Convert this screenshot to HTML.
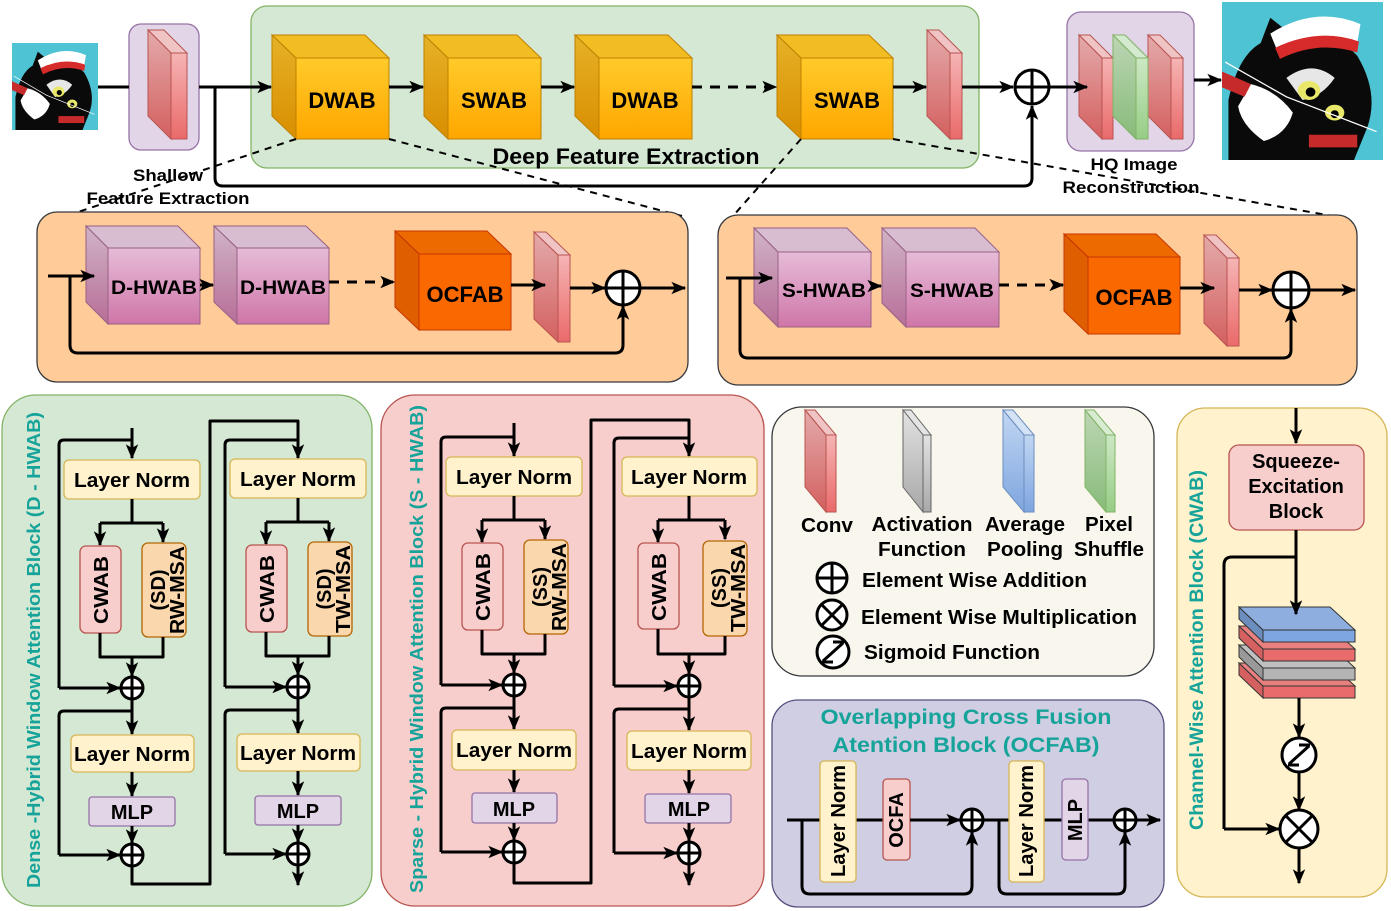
<!DOCTYPE html>
<html><head><meta charset="utf-8"><style>
html,body{margin:0;padding:0;background:#fff}
svg{display:block}
text{font-family:"Liberation Sans",sans-serif;font-weight:bold;fill:#000}
.ln{fill:none;stroke:#000;stroke-width:3;stroke-linejoin:round}
.ar{fill:none;stroke:#000;stroke-width:3;marker-end:url(#ah)}
.da{fill:none;stroke:#000;stroke-width:2;stroke-dasharray:7 6}
.dl{fill:none;stroke:#000;stroke-width:3;stroke-dasharray:10 8;marker-end:url(#ah)}
.lnb{fill:#fff2cc;stroke:#d6b656;stroke-width:1.3}
.cw{fill:#f8cecc;stroke:#b85450;stroke-width:1.3}
.ms{fill:#fad7ac;stroke:#b46504;stroke-width:1.3}
.ml{fill:#e1d5e7;stroke:#9673a6;stroke-width:1.3}
.pc{fill:#fff;stroke:#000;stroke-width:3}
.t19{font-size:19px}
.t20{font-size:20px}
.teal{fill:#16a39a}
</style></head><body>
<svg width="1391" height="911" viewBox="0 0 1391 911" xmlns="http://www.w3.org/2000/svg">
<defs>
<marker id="ah" viewBox="0 0 12 10" refX="11" refY="5" markerWidth="5" markerHeight="5" orient="auto" markerUnits="strokeWidth">
<path d="M0,0 L12,5 L0,10 L3,5 z" fill="#000"/></marker>
<linearGradient id="yf" x1="0" y1="0" x2="0" y2="1"><stop offset="0" stop-color="#ffcb2a"/><stop offset="1" stop-color="#ffa600"/></linearGradient>
<linearGradient id="ys" x1="0" y1="0" x2="0" y2="1"><stop offset="0" stop-color="#e6b228"/><stop offset="1" stop-color="#d98e00"/></linearGradient>
<linearGradient id="pf" x1="0" y1="0" x2="0" y2="1"><stop offset="0" stop-color="#e6bcd8"/><stop offset="1" stop-color="#cf76a8"/></linearGradient>
<linearGradient id="ps" x1="0" y1="0" x2="0" y2="1"><stop offset="0" stop-color="#d0b4c6"/><stop offset="1" stop-color="#b86e98"/></linearGradient>
<linearGradient id="rf" x1="0" y1="0" x2="0" y2="1"><stop offset="0" stop-color="#f6b4b4"/><stop offset="1" stop-color="#ea6a6a"/></linearGradient>
<linearGradient id="rs" x1="0" y1="0" x2="0" y2="1"><stop offset="0" stop-color="#e4aaaa"/><stop offset="1" stop-color="#d46060"/></linearGradient>
<linearGradient id="gf" x1="0" y1="0" x2="0" y2="1"><stop offset="0" stop-color="#cde8c4"/><stop offset="1" stop-color="#96cd86"/></linearGradient>
<linearGradient id="gs" x1="0" y1="0" x2="0" y2="1"><stop offset="0" stop-color="#bcd6b4"/><stop offset="1" stop-color="#88bb7a"/></linearGradient>
<linearGradient id="bf" x1="0" y1="0" x2="0" y2="1"><stop offset="0" stop-color="#c2d6f2"/><stop offset="1" stop-color="#7ea6e0"/></linearGradient>
<linearGradient id="af" x1="0" y1="0" x2="0" y2="1"><stop offset="0" stop-color="#e2e2e2"/><stop offset="1" stop-color="#a8a8a8"/></linearGradient>
<g id="cat">
<rect x="0" y="0" width="100" height="100" fill="#4ec3d3"/>
<path d="M4,100 L4,62 Q10,34 24,26 L30,10 L40,18 Q66,14 84,34 Q98,58 90,80 L82,100 Z" fill="#0a0a0a"/>
<path d="M30,20 Q58,2 86,14 L84,26 Q60,16 34,30 Z" fill="#fff"/>
<path d="M33,29 Q60,16 85,25 L84,32 Q60,24 36,36 Z" fill="#d72a2a"/>
<path d="M18,52 Q34,56 44,70 Q40,84 26,88 Q12,78 10,66 Z" fill="#fff"/>
<path d="M40,48 Q56,36 70,48 Q62,60 50,62 Z" fill="#fff" opacity="0.9"/>
<ellipse cx="54" cy="56" rx="7" ry="6" fill="#e9e86a"/>
<ellipse cx="70" cy="70" rx="6" ry="5" fill="#e9e86a"/>
<circle cx="55" cy="57" r="3" fill="#000"/><circle cx="70" cy="71" r="2.5" fill="#000"/>
<path d="M0,44 L18,52 L14,60 L0,54 Z" fill="#c62a2a"/>
<rect x="54" y="84" width="30" height="8" fill="#c62a2a"/>
<path d="M2,38 L40,60 L96,82" stroke="#fff" stroke-width="0.8" fill="none"/>
</g>
</defs>

<!-- ===== TOP ROW ===== -->
<use href="#cat" transform="translate(12,43) scale(0.86,0.87)"/>
<use href="#cat" transform="translate(1222,2) scale(1.61,1.58)"/>

<rect x="129" y="24" width="70" height="126" rx="12" fill="#e1d5e7" stroke="#9673a6" stroke-width="1.3"/>
<rect x="251" y="6" width="728" height="162" rx="16" fill="#d5e8d4" stroke="#82b366" stroke-width="1.3"/>
<rect x="1067" y="12" width="127" height="139" rx="14" fill="#e1d5e7" stroke="#9673a6" stroke-width="1.3"/>

<g stroke="#b85450" stroke-width="1">
<polygon points="148,30 164,30 187,53 171,53" fill="#f0c4c4"/><polygon points="148,30 171,53 171,139 148,116" fill="url(#rs)"/><rect x="171" y="53" width="16" height="86" fill="url(#rf)"/>
<polygon points="927,30 939,30 962,53 950,53" fill="#f0c4c4"/><polygon points="927,30 950,53 950,139 927,116" fill="url(#rs)"/><rect x="950" y="53" width="12" height="86" fill="url(#rf)"/>
<polygon points="1079,35 1090,35 1113,58 1102,58" fill="#f0c4c4"/><polygon points="1079,35 1102,58 1102,139 1079,116" fill="url(#rs)"/><rect x="1102" y="58" width="11" height="81" fill="url(#rf)"/>
<polygon points="1148,35 1160,35 1183,58 1171,58" fill="#f0c4c4"/><polygon points="1148,35 1171,58 1171,139 1148,116" fill="url(#rs)"/><rect x="1171" y="58" width="12" height="81" fill="url(#rf)"/>
</g>
<g stroke="#82b366" stroke-width="1">
<polygon points="1113,35 1125,35 1148,58 1136,58" fill="#d4ead0"/><polygon points="1113,35 1136,58 1136,139 1113,116" fill="url(#gs)"/><rect x="1136" y="58" width="12" height="81" fill="url(#gf)"/>
</g>

<g stroke="#c08000" stroke-width="1">
<polygon points="272,35 365,35 389,58 296,58" fill="#f2bd22"/><polygon points="272,35 296,58 296,139 272,116" fill="url(#ys)"/><rect x="296" y="58" width="93" height="81" fill="url(#yf)"/>
<polygon points="424,35 517,35 541,58 448,58" fill="#f2bd22"/><polygon points="424,35 448,58 448,139 424,116" fill="url(#ys)"/><rect x="448" y="58" width="93" height="81" fill="url(#yf)"/>
<polygon points="575,35 668,35 692,58 599,58" fill="#f2bd22"/><polygon points="575,35 599,58 599,139 575,116" fill="url(#ys)"/><rect x="599" y="58" width="93" height="81" fill="url(#yf)"/>
<polygon points="777,35 869,35 893,58 801,58" fill="#f2bd22"/><polygon points="777,35 801,58 801,139 777,116" fill="url(#ys)"/><rect x="801" y="58" width="92" height="81" fill="url(#yf)"/>
</g>
<g font-size="22" text-anchor="middle">
<text x="342" y="108">DWAB</text><text x="494" y="108">SWAB</text><text x="645" y="108">DWAB</text><text x="847" y="108">SWAB</text>
</g>

<path class="ln" d="M98,87 H129"/>
<path class="ar" d="M199,87 H271"/>
<path class="ln" d="M215,87 V178 Q215,186 223,186 H1024 Q1032,186 1032,178 V106"/>
<path class="ar" d="M1032,120 V106"/>
<path class="ar" d="M389,87 H423"/>
<path class="ar" d="M541,87 H574"/>
<path class="dl" d="M692,87 H776"/>
<path class="ar" d="M893,87 H926"/>
<path class="ar" d="M962,87 H1013"/>
<circle class="pc" cx="1032" cy="87" r="17"/>
<path class="ln" d="M1015,87 H1049 M1032,70 V104"/>
<path class="ar" d="M1049,87 H1087"/>
<path class="ar" d="M1194,80 H1221"/>

<text x="168" y="181" font-size="17" text-anchor="middle" textLength="70" lengthAdjust="spacingAndGlyphs">Shallow</text>
<text x="168" y="204" font-size="17" text-anchor="middle" textLength="163" lengthAdjust="spacingAndGlyphs">Feature Extraction</text>
<text x="626" y="164" font-size="22" text-anchor="middle" textLength="267" lengthAdjust="spacingAndGlyphs">Deep Feature Extraction</text>
<text x="1134" y="170" font-size="17" text-anchor="middle" textLength="87" lengthAdjust="spacingAndGlyphs">HQ Image</text>
<text x="1131" y="193" font-size="17" text-anchor="middle" textLength="137" lengthAdjust="spacingAndGlyphs">Reconstruction</text>

<path class="da" d="M296,139 L75,213"/>
<path class="da" d="M389,139 L682,216"/>
<path class="da" d="M801,139 L733,216"/>
<path class="da" d="M893,139 L1350,219"/>

<!-- ===== ORANGE PANELS ===== -->
<rect x="37" y="212" width="651" height="170" rx="20" fill="#ffcc99" stroke="#36393d" stroke-width="1.3"/>
<rect x="718" y="215" width="639" height="170" rx="20" fill="#ffcc99" stroke="#36393d" stroke-width="1.3"/>

<g stroke="#996185" stroke-width="1">
<polygon points="86,226 178,226 200,248 108,248" fill="#d8bccf"/><polygon points="86,226 108,248 108,324 86,302" fill="url(#ps)"/><rect x="108" y="248" width="92" height="76" fill="url(#pf)"/>
<polygon points="214,226 306,226 329,248 237,248" fill="#d8bccf"/><polygon points="214,226 237,248 237,324 214,302" fill="url(#ps)"/><rect x="237" y="248" width="92" height="76" fill="url(#pf)"/>
<polygon points="754,228 847,228 871,252 778,252" fill="#d8bccf"/><polygon points="754,228 778,252 778,327 754,303" fill="url(#ps)"/><rect x="778" y="252" width="93" height="75" fill="url(#pf)"/>
<polygon points="882,228 975,228 999,252 906,252" fill="#d8bccf"/><polygon points="882,228 906,252 906,327 882,303" fill="url(#ps)"/><rect x="906" y="252" width="93" height="75" fill="url(#pf)"/>
</g>
<g stroke="#c73500" stroke-width="1">
<polygon points="395,231 487,231 511,254 419,254" fill="#ec6a00"/><polygon points="395,231 419,254 419,330 395,307" fill="#df5e00"/><rect x="419" y="254" width="92" height="76" fill="#fa6800"/>
<polygon points="1064,234 1156,234 1180,257 1088,257" fill="#ec6a00"/><polygon points="1064,234 1088,257 1088,334 1064,311" fill="#df5e00"/><rect x="1088" y="257" width="92" height="77" fill="#fa6800"/>
</g>
<g stroke="#b85450" stroke-width="1">
<polygon points="534,232 546,232 570,255 558,255" fill="#f0c4c4"/><polygon points="534,232 558,255 558,342 534,319" fill="url(#rs)"/><rect x="558" y="255" width="12" height="87" fill="url(#rf)"/>
<polygon points="1204,235 1216,235 1239,258 1227,258" fill="#f0c4c4"/><polygon points="1204,235 1227,258 1227,346 1204,323" fill="url(#rs)"/><rect x="1227" y="258" width="12" height="88" fill="url(#rf)"/>
</g>
<g text-anchor="middle">
<text x="154" y="294" font-size="19" textLength="86" lengthAdjust="spacingAndGlyphs">D-HWAB</text><text x="283" y="294" font-size="19" textLength="86" lengthAdjust="spacingAndGlyphs">D-HWAB</text>
<text x="465" y="302" font-size="22">OCFAB</text>
<text x="824" y="297" font-size="19" textLength="84" lengthAdjust="spacingAndGlyphs">S-HWAB</text><text x="952" y="297" font-size="19" textLength="84" lengthAdjust="spacingAndGlyphs">S-HWAB</text>
<text x="1134" y="305" font-size="22">OCFAB</text>
</g>

<path class="ar" d="M48,276 H94"/>
<path class="ln" d="M70,276 V345 Q70,353 78,353 H615 Q623,353 623,345 V306"/>
<path class="ar" d="M623,320 V306"/>
<path class="ar" d="M200,285 H213"/>
<path class="dl" d="M329,282 H394"/>
<path class="ar" d="M511,285 H545"/>
<path class="ar" d="M570,288 H605"/>
<circle class="pc" cx="623" cy="288" r="17"/>
<path class="ln" d="M606,288 H640 M623,271 V305"/>
<path class="ar" d="M640,288 H685"/>

<path class="ar" d="M726,278 H772"/>
<path class="ln" d="M740,278 V350 Q740,358 748,358 H1283 Q1291,358 1291,350 V309"/>
<path class="ar" d="M1291,322 V309"/>
<path class="ar" d="M871,286 H881"/>
<path class="dl" d="M999,285 H1063"/>
<path class="ar" d="M1180,288 H1214"/>
<path class="ar" d="M1239,290 H1272"/>
<circle class="pc" cx="1291" cy="290" r="18"/>
<path class="ln" d="M1273,290 H1309 M1291,272 V308"/>
<path class="ar" d="M1309,290 H1355"/>

<!-- ===== BOTTOM PANELS ===== -->
<rect x="2" y="395" width="370" height="511" rx="34" fill="#d5e8d4" stroke="#82b366" stroke-width="1.3"/>
<rect x="381" y="395" width="383" height="511" rx="34" fill="#f8cecc" stroke="#b85450" stroke-width="1.3"/>
<rect x="772" y="407" width="382" height="269" rx="30" fill="#f9f7ed" stroke="#36393d" stroke-width="1.3"/>
<rect x="772" y="700" width="392" height="207" rx="26" fill="#d0cee2" stroke="#56517e" stroke-width="1.3"/>
<rect x="1177" y="408" width="210" height="489" rx="28" fill="#fff2cc" stroke="#d6b656" stroke-width="1.3"/>

<text class="teal" font-size="18" text-anchor="middle" textLength="476" lengthAdjust="spacingAndGlyphs" transform="translate(40,650) rotate(-90)">Dense -Hybrid Window Attention Block (D - HWAB)</text>
<text class="teal" font-size="18" text-anchor="middle" textLength="488" lengthAdjust="spacingAndGlyphs" transform="translate(423,649) rotate(-90)">Sparse - Hybrid Window Attention Block (S - HWAB)</text>
<text class="teal" font-size="19" text-anchor="middle" textLength="360" lengthAdjust="spacingAndGlyphs" transform="translate(1203,650) rotate(-90)">Channel-Wise Attention Block (CWAB)</text>

<g transform="translate(132,0)">
<path class="ar" d="M0,428 V458"/>
<path class="ln" d="M0,440 H-68 Q-73,440 -73,445 V688"/><path class="ar" d="M-73,688 H-12"/>
<rect class="lnb" x="-68" y="460" width="136" height="39" rx="5"/><text class="t20" x="0" y="487" text-anchor="middle" textLength="116" lengthAdjust="spacingAndGlyphs">Layer Norm</text>
<path class="ln" d="M0,499 V523 M-32,523 H31"/><path class="ar" d="M-32,523 V545"/><path class="ar" d="M31,523 V542"/>
<rect class="cw" x="-52" y="546" width="41" height="87" rx="6"/><text class="t20" text-anchor="middle" textLength="68" lengthAdjust="spacingAndGlyphs" transform="translate(-24,590) rotate(-90)">CWAB</text>
<rect class="ms" x="10" y="543" width="44" height="94" rx="6"/>
<text class="t20" text-anchor="middle" transform="translate(33,590) rotate(-90)">(SD)</text>
<text class="t20" text-anchor="middle" textLength="88" lengthAdjust="spacingAndGlyphs" transform="translate(52,590) rotate(-90)">RW-MSA</text>
<path class="ln" d="M-32,633 V657 H31 V637"/><path class="ar" d="M0,657 V676"/>
<circle class="pc" cx="0" cy="688" r="11"/><path class="ln" d="M-11,688 H11 M0,677 V699"/>
<path class="ar" d="M0,699 V734"/>
<path class="ln" d="M0,711 H-68 Q-73,711 -73,716 V855"/><path class="ar" d="M-73,855 H-12"/>
<rect class="lnb" x="-61" y="735" width="123" height="37" rx="5"/><text class="t20" x="0" y="761" text-anchor="middle" textLength="116" lengthAdjust="spacingAndGlyphs">Layer Norm</text>
<path class="ar" d="M0,772 V796"/>
<rect class="ml" x="-43" y="797" width="86" height="29" rx="3"/><text class="t20" x="0" y="819" text-anchor="middle">MLP</text>
<path class="ar" d="M0,826 V843"/>
<circle class="pc" cx="0" cy="855" r="11"/><path class="ln" d="M-11,855 H11 M0,844 V866"/>
</g>
<path class="ln" d="M132,866 V884 H210 V421 H298 V438"/>

<g transform="translate(298,-1)">
<path class="ar" d="M0,436 V459"/>
<path class="ln" d="M0,441 H-68 Q-73,441 -73,446 V688"/><path class="ar" d="M-73,688 H-12"/>
<rect class="lnb" x="-68" y="460" width="136" height="39" rx="5"/><text class="t20" x="0" y="487" text-anchor="middle" textLength="116" lengthAdjust="spacingAndGlyphs">Layer Norm</text>
<path class="ln" d="M0,499 V523 M-32,523 H31"/><path class="ar" d="M-32,523 V545"/><path class="ar" d="M31,523 V542"/>
<rect class="cw" x="-52" y="546" width="41" height="87" rx="6"/><text class="t20" text-anchor="middle" textLength="68" lengthAdjust="spacingAndGlyphs" transform="translate(-24,590) rotate(-90)">CWAB</text>
<rect class="ms" x="10" y="543" width="44" height="94" rx="6"/>
<text class="t20" text-anchor="middle" transform="translate(33,590) rotate(-90)">(SD)</text>
<text class="t20" text-anchor="middle" textLength="88" lengthAdjust="spacingAndGlyphs" transform="translate(52,590) rotate(-90)">TW-MSA</text>
<path class="ln" d="M-32,633 V657 H31 V637"/><path class="ar" d="M0,657 V676"/>
<circle class="pc" cx="0" cy="688" r="11"/><path class="ln" d="M-11,688 H11 M0,677 V699"/>
<path class="ar" d="M0,699 V734"/>
<path class="ln" d="M0,711 H-68 Q-73,711 -73,716 V855"/><path class="ar" d="M-73,855 H-12"/>
<rect class="lnb" x="-61" y="735" width="123" height="37" rx="5"/><text class="t20" x="0" y="761" text-anchor="middle" textLength="116" lengthAdjust="spacingAndGlyphs">Layer Norm</text>
<path class="ar" d="M0,772 V796"/>
<rect class="ml" x="-43" y="797" width="86" height="29" rx="3"/><text class="t20" x="0" y="819" text-anchor="middle">MLP</text>
<path class="ar" d="M0,826 V843"/>
<circle class="pc" cx="0" cy="855" r="11"/><path class="ln" d="M-11,855 H11 M0,844 V866"/>
<path class="ar" d="M0,866 V886"/>
</g>

<g transform="translate(514,-3)">
<path class="ar" d="M0,426 V459"/>
<path class="ln" d="M0,440 H-68 Q-73,440 -73,445 V688"/><path class="ar" d="M-73,688 H-12"/>
<rect class="lnb" x="-68" y="460" width="136" height="39" rx="5"/><text class="t20" x="0" y="487" text-anchor="middle" textLength="116" lengthAdjust="spacingAndGlyphs">Layer Norm</text>
<path class="ln" d="M0,499 V523 M-32,523 H31"/><path class="ar" d="M-32,523 V545"/><path class="ar" d="M31,523 V542"/>
<rect class="cw" x="-52" y="546" width="41" height="87" rx="6"/><text class="t20" text-anchor="middle" textLength="68" lengthAdjust="spacingAndGlyphs" transform="translate(-24,590) rotate(-90)">CWAB</text>
<rect class="ms" x="10" y="543" width="44" height="94" rx="6"/>
<text class="t20" text-anchor="middle" transform="translate(33,590) rotate(-90)">(SS)</text>
<text class="t20" text-anchor="middle" textLength="88" lengthAdjust="spacingAndGlyphs" transform="translate(52,590) rotate(-90)">RW-MSA</text>
<path class="ln" d="M-32,633 V657 H31 V637"/><path class="ar" d="M0,657 V676"/>
<circle class="pc" cx="0" cy="688" r="11"/><path class="ln" d="M-11,688 H11 M0,677 V699"/>
<path class="ar" d="M0,699 V732"/>
<path class="ln" d="M0,711 H-68 Q-73,711 -73,716 V855"/><path class="ar" d="M-73,855 H-12"/>
<rect class="lnb" x="-62" y="733" width="124" height="40" rx="5"/><text class="t20" x="0" y="760" text-anchor="middle" textLength="116" lengthAdjust="spacingAndGlyphs">Layer Norm</text>
<path class="ar" d="M0,773 V795"/>
<rect class="ml" x="-42" y="796" width="85" height="30" rx="3"/><text class="t20" x="0" y="819" text-anchor="middle">MLP</text>
<path class="ar" d="M0,826 V843"/>
<circle class="pc" cx="0" cy="855" r="11"/><path class="ln" d="M-11,855 H11 M0,844 V866"/>
</g>
<path class="ln" d="M514,863 V883 H591 V420 H689 V436"/>

<g transform="translate(689,-2)">
<path class="ar" d="M0,436 V458"/>
<path class="ln" d="M0,440 H-70 Q-75,440 -75,445 V688"/><path class="ar" d="M-75,688 H-12"/>
<rect class="lnb" x="-67" y="459" width="135" height="39" rx="5"/><text class="t20" x="0" y="486" text-anchor="middle" textLength="116" lengthAdjust="spacingAndGlyphs">Layer Norm</text>
<path class="ln" d="M0,498 V522 M-31,522 H36"/><path class="ar" d="M-31,522 V544"/><path class="ar" d="M36,522 V541"/>
<rect class="cw" x="-51" y="545" width="41" height="86" rx="6"/><text class="t20" text-anchor="middle" textLength="68" lengthAdjust="spacingAndGlyphs" transform="translate(-23,589) rotate(-90)">CWAB</text>
<rect class="ms" x="14" y="543" width="44" height="95" rx="6"/>
<text class="t20" text-anchor="middle" transform="translate(37,590) rotate(-90)">(SS)</text>
<text class="t20" text-anchor="middle" textLength="88" lengthAdjust="spacingAndGlyphs" transform="translate(56,590) rotate(-90)">TW-MSA</text>
<path class="ln" d="M-31,631 V656 H36 V638"/><path class="ar" d="M0,656 V676"/>
<circle class="pc" cx="0" cy="688" r="11"/><path class="ln" d="M-11,688 H11 M0,677 V699"/>
<path class="ar" d="M0,699 V732"/>
<path class="ln" d="M0,711 H-70 Q-75,711 -75,716 V855"/><path class="ar" d="M-75,855 H-12"/>
<rect class="lnb" x="-62" y="733" width="124" height="39" rx="5"/><text class="t20" x="0" y="760" text-anchor="middle" textLength="116" lengthAdjust="spacingAndGlyphs">Layer Norm</text>
<path class="ar" d="M0,772 V795"/>
<rect class="ml" x="-44" y="796" width="86" height="29" rx="3"/><text class="t20" x="0" y="818" text-anchor="middle">MLP</text>
<path class="ar" d="M0,825 V843"/>
<circle class="pc" cx="0" cy="855" r="11"/><path class="ln" d="M-11,855 H11 M0,844 V866"/>
<path class="ar" d="M0,866 V887"/>
</g>

<!-- ===== LEGEND ===== -->
<g stroke-width="1">
<polygon points="805,410 815,410 836,435 826,435" fill="#f0c4c4" stroke="#b85450"/><polygon points="805,410 826,435 826,512 805,487" fill="url(#rs)" stroke="#b85450"/><rect x="826" y="435" width="10" height="77" fill="url(#rf)" stroke="#b85450"/>
<polygon points="903,410 911,410 931,435 923,435" fill="#e4e4e4" stroke="#666"/><polygon points="903,410 923,435 923,512 903,487" fill="url(#af)" stroke="#666"/><rect x="923" y="435" width="8" height="77" fill="url(#af)" stroke="#666"/>
<polygon points="1003,410 1013,410 1034,435 1024,435" fill="#d4e2f6" stroke="#6c8ebf"/><polygon points="1003,410 1024,435 1024,512 1003,487" fill="url(#bf)" stroke="#6c8ebf"/><rect x="1024" y="435" width="10" height="77" fill="url(#bf)" stroke="#6c8ebf"/>
<polygon points="1085,410 1094,410 1115,435 1106,435" fill="#d8ecd2" stroke="#82b366"/><polygon points="1085,410 1106,435 1106,512 1085,487" fill="url(#gs)" stroke="#82b366"/><rect x="1106" y="435" width="9" height="77" fill="url(#gf)" stroke="#82b366"/>
</g>
<g class="t20" text-anchor="middle">
<text x="827" y="532" textLength="52" lengthAdjust="spacingAndGlyphs">Conv</text>
<text x="922" y="531" textLength="101" lengthAdjust="spacingAndGlyphs">Activation</text><text x="922" y="556" textLength="88" lengthAdjust="spacingAndGlyphs">Function</text>
<text x="1025" y="531" textLength="80" lengthAdjust="spacingAndGlyphs">Average</text><text x="1025" y="556" textLength="76" lengthAdjust="spacingAndGlyphs">Pooling</text>
<text x="1109" y="531" textLength="48" lengthAdjust="spacingAndGlyphs">Pixel</text><text x="1109" y="556" textLength="70" lengthAdjust="spacingAndGlyphs">Shuffle</text>
</g>
<circle class="pc" cx="832" cy="578" r="15"/><path class="ln" d="M817,578 H847 M832,563 V593"/>
<text class="t20" x="862" y="587" textLength="225" lengthAdjust="spacingAndGlyphs">Element Wise Addition</text>
<circle class="pc" cx="832" cy="615" r="15"/><path class="ln" d="M821,604 L843,626 M843,604 L821,626"/>
<text class="t20" x="861" y="624" textLength="276" lengthAdjust="spacingAndGlyphs">Element Wise Multiplication</text>
<circle class="pc" cx="833" cy="652" r="16"/><path class="ln" d="M833,642 H844 M843,643 L823,661 M822,662 H833"/>
<text class="t20" x="864" y="659" textLength="176" lengthAdjust="spacingAndGlyphs">Sigmoid Function</text>

<!-- ===== OCFAB ===== -->
<text class="teal" font-size="21" x="966" y="724" text-anchor="middle" textLength="291" lengthAdjust="spacingAndGlyphs">Overlapping Cross Fusion</text>
<text class="teal" font-size="21" x="966" y="752" text-anchor="middle" textLength="267" lengthAdjust="spacingAndGlyphs">Atention Block (OCFAB)</text>
<path class="ln" d="M787,820 H962"/>
<path class="ln" d="M802,820 V886 Q802,894 810,894 H964 Q972,894 972,886 V832"/><path class="ar" d="M972,840 V832"/>
<rect class="lnb" x="820" y="761" width="36" height="121" rx="4"/><text class="t20" text-anchor="middle" textLength="112" lengthAdjust="spacingAndGlyphs" transform="translate(845,821) rotate(-90)">Layer Norm</text>
<rect class="cw" x="883" y="779" width="27" height="81" rx="4"/><text class="t20" text-anchor="middle" transform="translate(903,820) rotate(-90)">OCFA</text>
<path class="ar" d="M910,820 H960"/>
<circle class="pc" cx="972" cy="820" r="11"/><path class="ln" d="M961,820 H983 M972,809 V831"/>
<path class="ln" d="M983,820 H1114"/>
<path class="ln" d="M999,820 V886 Q999,894 1007,894 H1117 Q1125,894 1125,886 V832"/><path class="ar" d="M1125,840 V832"/>
<rect class="lnb" x="1009" y="761" width="35" height="121" rx="4"/><text class="t20" text-anchor="middle" textLength="112" lengthAdjust="spacingAndGlyphs" transform="translate(1033,821) rotate(-90)">Layer Norm</text>
<rect class="ml" x="1062" y="779" width="26" height="81" rx="4"/><text class="t20" text-anchor="middle" transform="translate(1082,820) rotate(-90)">MLP</text>
<circle class="pc" cx="1125" cy="820" r="11"/><path class="ln" d="M1114,820 H1136 M1125,809 V831"/>
<path class="ar" d="M1136,820 H1160"/>

<!-- ===== CWAB ===== -->
<path class="ar" d="M1296,408 V443"/>
<rect class="cw" x="1229" y="445" width="135" height="85" rx="10"/>
<g class="t20" text-anchor="middle"><text x="1296" y="468">Squeeze-</text><text x="1296" y="493">Excitation</text><text x="1296" y="518">Block</text></g>
<path class="ln" d="M1296,530 V557 H1232 Q1224,557 1224,565 V829"/>
<path class="ar" d="M1224,829 H1279"/>
<g stroke="#333" stroke-width="1">
<polygon points="1239,663 1263,686 1263,698 1239,675" fill="#d46060"/><polygon points="1239,663 1330,663 1355,686 1263,686" fill="#e88080"/><rect x="1263" y="686" width="92" height="12" fill="#ea6b6b"/>
<polygon points="1239,645 1263,668 1263,680 1239,657" fill="#999"/><polygon points="1239,645 1330,645 1355,668 1263,668" fill="#c0c0c0"/><rect x="1263" y="668" width="92" height="12" fill="#b4b4b4"/>
<polygon points="1239,626 1263,649 1263,661 1239,638" fill="#d46060"/><polygon points="1239,626 1330,626 1355,649 1263,649" fill="#e88080"/><rect x="1263" y="649" width="92" height="12" fill="#ea6b6b"/>
<polygon points="1239,607 1263,630 1263,642 1239,619" fill="#6c8ebf"/><polygon points="1239,607 1330,607 1355,630 1263,630" fill="#8eaedf"/><rect x="1263" y="630" width="92" height="12" fill="#7ea6e0"/>
</g>
<path class="ar" d="M1296,557 V614"/>
<path class="ar" d="M1299,698 V737"/>
<circle class="pc" cx="1299" cy="755" r="17"/><path class="ln" d="M1299,745 H1310 M1309,746 L1289,764 M1288,765 H1299"/>
<path class="ar" d="M1299,772 V810"/>
<circle class="pc" cx="1299" cy="829" r="19"/><path class="ln" d="M1286,816 L1312,842 M1312,816 L1286,842"/>
<path class="ar" d="M1299,848 V883"/>
</svg>
</body></html>
